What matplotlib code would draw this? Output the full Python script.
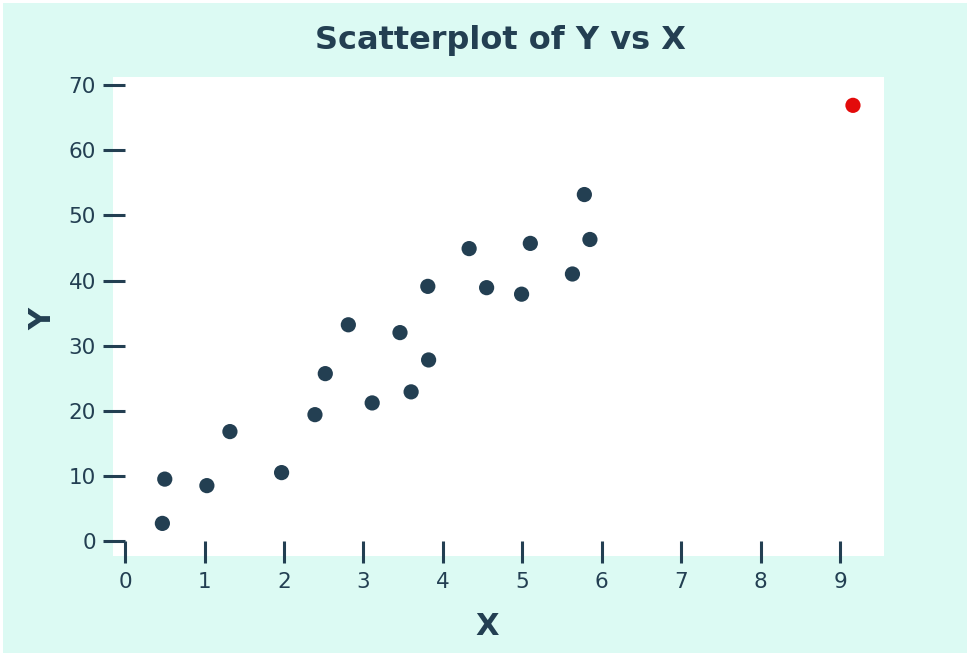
from matplotlib import pyplot as plt
from matplotlib.patches import Rectangle
import numpy as np

# values
x_vals = [0.47, 0.50, 1.03, 1.32, 1.97, 2.39, 2.52, 2.81, 3.11, 3.46, 3.60,
          3.81, 3.82, 4.33, 4.55, 4.99, 5.10, 5.63, 5.78, 5.85]
y_vals = [2.7, 9.5, 8.5, 16.8, 10.5, 19.4, 25.7, 33.2, 21.2, 32.0, 22.9,
          39.1, 27.8, 44.9, 38.9, 37.9, 45.7, 41.0, 53.2, 46.3]
outlier_x = [9.16]
outlier_y = [66.9]
x_ticks = list(range(0, 10))
y_ticks = list(range(0, 71, 10))

dark = '#233f52'
mint = '#dcfaf3'
plt.rcParams['font.family'] = ['DejaVu Sans']

fig = plt.figure(figsize=(9.7, 6.56), dpi=100, facecolor='white')
fig.patches.append(Rectangle((3 / 970, 3 / 656), 964 / 970, 650 / 656,
                             transform=fig.transFigure, facecolor=mint,
                             edgecolor='none', zorder=-1))
ax = fig.add_axes([0.1162, 0.1529, 0.7951, 0.7302])
ax.set_facecolor('white')

ax.scatter(x_vals, y_vals, s=120, color=dark, edgecolors='none', zorder=3)
ax.scatter(outlier_x, outlier_y, s=120, color='#e30b0b', edgecolors='none', zorder=3)

ax.set_xlim(-0.155, 9.55)
ax.set_ylim(-2.26, 71.3)
ax.set_xticks(x_ticks)
ax.set_yticks(y_ticks)

# d3-like axes: ticks hanging from the data origin, no spine lines
ax.spines['left'].set_position(('data', 0))
ax.spines['bottom'].set_position(('data', 0))
for side in ['left', 'bottom', 'top', 'right']:
    ax.spines[side].set_visible(False)
ax.tick_params(axis='both', direction='out', length=16, width=2.2,
               color=dark, labelcolor=dark, labelsize=15.5)
ax.tick_params(axis='x', pad=6)
ax.tick_params(axis='y', pad=5)

ax.set_xlabel('X', fontsize=22, fontweight='bold', color=dark)
ax.set_ylabel('Y', fontsize=22, fontweight='bold', color=dark)
ax.xaxis.set_label_coords(0.4855, -0.118)
ax.yaxis.set_label_coords(-0.072, 0.495)
fig.text(0.5155, 0.939, 'Scatterplot of Y vs X', ha='center', va='center',
         fontsize=23, fontweight='bold', color=dark)

plt.savefig('out.png', dpi=100, facecolor=fig.get_facecolor())
